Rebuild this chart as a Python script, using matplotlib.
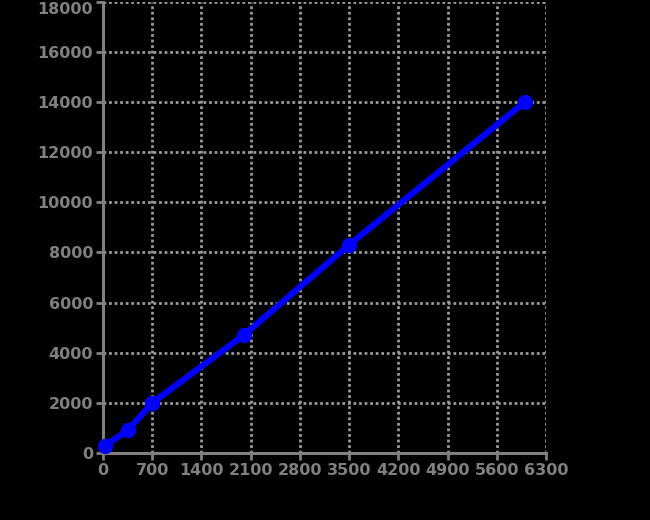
import matplotlib.pyplot as plt
import numpy as np

# values
x_vals = [30, 350, 700, 2000, 3500, 6000]
y_vals = [300, 900, 2000, 4700, 8300, 14000]
x_ticks = [0, 700, 1400, 2100, 2800, 3500, 4200, 4900, 5600, 6300]
y_ticks = [0, 2000, 4000, 6000, 8000, 10000, 12000, 14000, 16000, 18000]

gray = '#808080'

fig = plt.figure(figsize=(6.5, 5.2), dpi=100, facecolor='black')
ax = fig.add_axes([0.1585, 0.1288, 0.6815, 0.868])
ax.set_facecolor('black')

# dotted grid behind the line
ax.grid(True, color='#9a9a9a', linestyle=(0, (1, 1)), linewidth=2.0)
ax.set_axisbelow(True)

ax.plot(x_vals, y_vals, color='#0000ff', linewidth=4.5,
        marker='o', markersize=10, clip_on=False, zorder=3)

ax.set_xlim(0, 6300)
ax.set_ylim(0, 18000)
ax.set_xticks(x_ticks)
ax.set_yticks(y_ticks)
ax.set_xticklabels([str(v) for v in x_ticks])
ax.set_yticklabels([str(v) for v in y_ticks])

for side in ['top', 'right']:
    ax.spines[side].set_visible(False)
for side in ['left', 'bottom']:
    ax.spines[side].set_color(gray)
    ax.spines[side].set_linewidth(2.2)

ax.tick_params(colors=gray, width=2, length=5, direction='out', pad=2)
for lab in ax.get_xticklabels() + ax.get_yticklabels():
    lab.set_fontsize(11.5)
    lab.set_fontweight('bold')
    lab.set_color(gray)

# top label sits below its tick in the reference
ax.get_yticklabels()[-1].set_va('top')

fig.savefig('out.png', dpi=100, facecolor='black')
